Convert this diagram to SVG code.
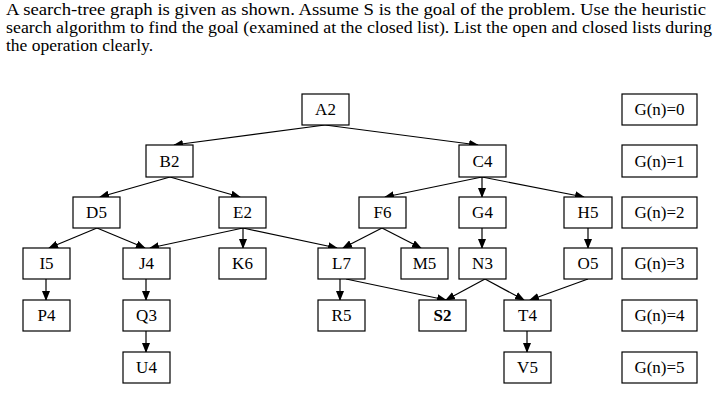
<svg xmlns="http://www.w3.org/2000/svg" width="726" height="403" viewBox="0 0 726 403">
<style>
text{font-family:"Liberation Serif",serif;font-size:17px;fill:#000}
.t{font-size:16px}
.n rect{fill:#fff;stroke:#000;stroke-width:1.2}
.n text{text-anchor:middle}
.e line{stroke:#000;stroke-width:1.2;marker-end:url(#a)}
</style>
<defs><marker id="a" markerWidth="10" markerHeight="8" refX="9" refY="4" orient="auto" markerUnits="userSpaceOnUse"><path d="M0,0L10,4L0,8z"/></marker></defs>
<rect width="726" height="403" fill="#fff"/>
<text class="t" x="6" y="15" textLength="700" lengthAdjust="spacingAndGlyphs">A search-tree graph is given as shown. Assume S is the goal of the problem. Use the heuristic</text>
<text class="t" x="6" y="33" textLength="706" lengthAdjust="spacingAndGlyphs">search algorithm to find the goal (examined at the closed list). List the open and closed lists during</text>
<text class="t" x="6" y="51" textLength="147" lengthAdjust="spacingAndGlyphs">the operation clearly.</text>
<g class="e">
<line x1="325" y1="125" x2="174" y2="145"/><line x1="325" y1="125" x2="478" y2="145"/>
<line x1="170" y1="177" x2="100" y2="197"/><line x1="170" y1="177" x2="240" y2="197"/>
<line x1="97" y1="228" x2="49" y2="248"/><line x1="97" y1="228" x2="145" y2="248"/>
<line x1="243" y1="228" x2="150" y2="248"/><line x1="243" y1="228" x2="243" y2="248"/><line x1="243" y1="228" x2="337" y2="248"/>
<line x1="382" y1="228" x2="343" y2="248"/><line x1="382" y1="228" x2="421" y2="248"/>
<line x1="482" y1="177" x2="385" y2="197"/><line x1="482" y1="177" x2="482" y2="197"/><line x1="482" y1="177" x2="584" y2="197"/>
<line x1="482" y1="228" x2="482" y2="248"/><line x1="588" y1="228" x2="588" y2="248"/>
<line x1="346" y1="279" x2="446" y2="300"/><line x1="485" y1="279" x2="446" y2="300"/><line x1="485" y1="279" x2="524" y2="300"/><line x1="588" y1="279" x2="530" y2="300"/>
<line x1="46" y1="279" x2="46" y2="300"/><line x1="146" y1="279" x2="146" y2="300"/><line x1="146" y1="331" x2="146" y2="352"/>
<line x1="340" y1="279" x2="340" y2="300"/><line x1="527" y1="331" x2="527" y2="352"/>
</g>
<g id="A2" class="n"><rect x="302" y="94" width="47" height="31"/><text x="325.5" y="115">A2</text></g>
<g id="B2" class="n"><rect x="146" y="145" width="47" height="32"/><text x="169.5" y="167">B2</text></g>
<g id="C4" class="n"><rect x="459" y="145" width="47" height="32"/><text x="482.5" y="167">C4</text></g>
<g id="D5" class="n"><rect x="73" y="197" width="47" height="31"/><text x="96.5" y="218">D5</text></g>
<g id="E2" class="n"><rect x="219" y="197" width="47" height="31"/><text x="242.5" y="218">E2</text></g>
<g id="F6" class="n"><rect x="359" y="197" width="47" height="31"/><text x="382.5" y="218">F6</text></g>
<g id="G4" class="n"><rect x="459" y="197" width="47" height="31"/><text x="482.5" y="218">G4</text></g>
<g id="H5" class="n"><rect x="564" y="197" width="48" height="31"/><text x="588" y="218">H5</text></g>
<g id="I5" class="n"><rect x="23" y="248" width="47" height="31"/><text x="46.5" y="269">I5</text></g>
<g id="J4" class="n"><rect x="123" y="248" width="47" height="31"/><text x="146.5" y="269">J4</text></g>
<g id="K6" class="n"><rect x="219" y="248" width="47" height="31"/><text x="242.5" y="269">K6</text></g>
<g id="L7" class="n"><rect x="318" y="248" width="47" height="31"/><text x="341.5" y="269">L7</text></g>
<g id="M5" class="n"><rect x="401" y="248" width="47" height="31"/><text x="424.5" y="269">M5</text></g>
<g id="N3" class="n"><rect x="459" y="248" width="47" height="31"/><text x="482.5" y="269">N3</text></g>
<g id="O5" class="n"><rect x="564" y="248" width="48" height="31"/><text x="588" y="269">O5</text></g>
<g id="P4" class="n"><rect x="23" y="300" width="47" height="31"/><text x="46.5" y="321">P4</text></g>
<g id="Q3" class="n"><rect x="123" y="300" width="47" height="31"/><text x="146.5" y="321">Q3</text></g>
<g id="R5" class="n"><rect x="318" y="300" width="47" height="31"/><text x="341.5" y="321">R5</text></g>
<g id="S2" class="n"><rect x="419" y="300" width="47" height="31"/><text x="442.5" y="321" font-weight="bold">S2</text></g>
<g id="T4" class="n"><rect x="504" y="300" width="47" height="31"/><text x="527.5" y="321">T4</text></g>
<g id="U4" class="n"><rect x="123" y="352" width="47" height="31"/><text x="146.5" y="373">U4</text></g>
<g id="V5" class="n"><rect x="504" y="352" width="47" height="31"/><text x="527.5" y="373">V5</text></g>
<g id="G0" class="n"><rect x="622" y="94" width="75" height="31"/><text x="659.5" y="115">G(n)=0</text></g>
<g id="G1" class="n"><rect x="622" y="145" width="75" height="32"/><text x="659.5" y="167">G(n)=1</text></g>
<g id="G2" class="n"><rect x="622" y="197" width="75" height="31"/><text x="659.5" y="218">G(n)=2</text></g>
<g id="G3" class="n"><rect x="622" y="248" width="75" height="31"/><text x="659.5" y="269">G(n)=3</text></g>
<g id="G4n" class="n"><rect x="622" y="300" width="75" height="31"/><text x="659.5" y="321">G(n)=4</text></g>
<g id="G5" class="n"><rect x="622" y="352" width="75" height="31"/><text x="659.5" y="373">G(n)=5</text></g>
</svg>
